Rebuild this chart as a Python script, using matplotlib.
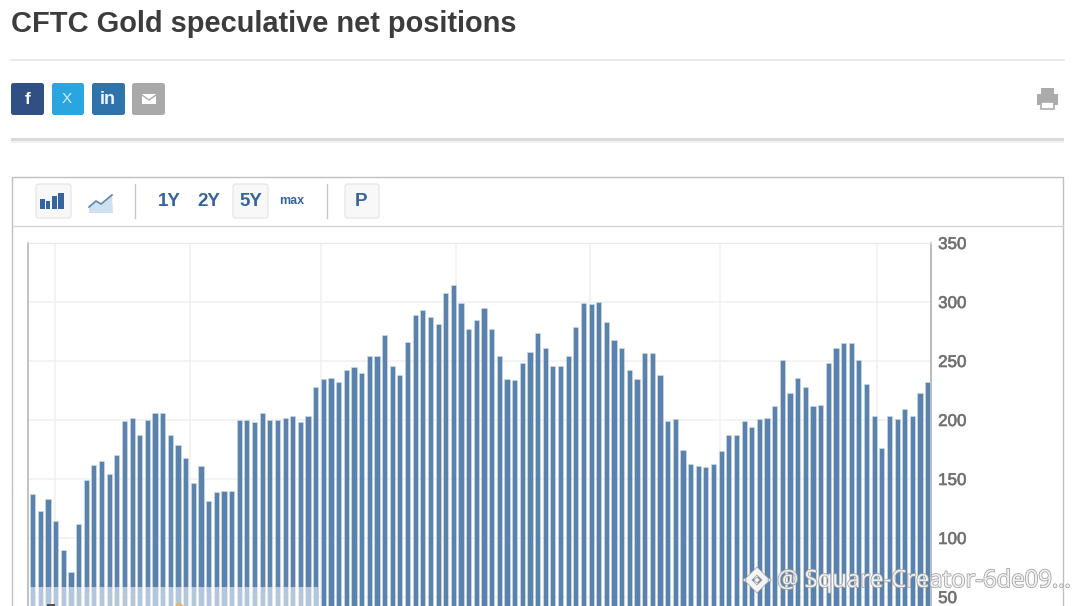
import matplotlib
matplotlib.use("Agg")
import matplotlib.pyplot as plt
from matplotlib.patches import Rectangle, FancyBboxPatch, Polygon
import matplotlib.patheffects as pe
import numpy as np

plt.rcParams['font.family'] = ['Liberation Sans', 'DejaVu Sans']

# net positions (thousand contracts)
positions = [137.5, 122.5, 133, 114, 90, 71, 111.5, 149, 162, 165,
             154, 170, 199, 202, 187, 200, 206, 206, 187, 179,
             168, 147, 161, 131, 139, 140, 140, 200, 200, 198,
             206, 200, 200, 202, 203, 198, 203, 228, 235, 236,
             232, 242, 244.5, 240, 254, 254, 272, 246, 238, 266,
             289, 293.5, 287, 281, 308, 314, 299, 277, 285, 295,
             277, 254, 235, 233.5, 248, 258, 274, 261, 246, 246,
             254, 279, 299, 298, 300, 283, 267.5, 261, 242, 235,
             257, 257, 238, 199.5, 200.5, 175, 162.5, 161, 160, 162.5,
             173.5, 187, 187, 199.5, 194, 200.5, 202, 211.5, 251, 222.5,
             236, 228, 211.5, 213, 248.5, 261, 265, 265, 251, 230.5,
             203, 176, 203, 200.5, 209, 203, 222.5, 232]
y_ticks = [50, 100, 150, 200, 250, 300, 350]
# vertical grid lines sit at these bar indices
date_ticks = [2.98, 20.5, 37.75, 55.3, 72.85, 89.9, 110.4]

title = "CFTC Gold speculative net positions"
range_labels = ["1Y", "2Y", "5Y"]
range_x = [169, 209, 250.5]
watermark = "@ Square-Creator-6de09..."

W, H = 1080, 606
BAR = '#5b82ac'
NAVY = '#34659f'

fig = plt.figure(figsize=(W / 100, H / 100), dpi=100, facecolor='white')

# chart axes, its bottom (value 0) lies below the crop
left, right, top, bottom = 28.0, 930.5, 243.0, 656.0
ax = fig.add_axes([left / W, (H - bottom) / H, (right - left) / W, (bottom - top) / H])
x = np.arange(len(positions))
step = (927.7 - 32.7) / (len(positions) - 1)
ax.bar(x, positions, width=0.68, color=BAR, edgecolor='#cfdeec', linewidth=0.4, zorder=3)
ax.set_xlim(-(32.7 - left) / step, len(positions) - 1 + (right - 927.7) / step)
ax.set_ylim(0, 350)
ax.set_yticks(y_ticks)
ax.set_xticks(date_ticks)
ax.set_xticklabels([])
ax.yaxis.tick_right()
ax.tick_params(axis='y', length=0, pad=5.5, labelsize=12.2, labelcolor='#707070')
ax.tick_params(axis='x', length=0)
for lab in ax.get_yticklabels():
    lab.set_path_effects([pe.withStroke(linewidth=0.5, foreground='#808080')])
ax.grid(True, color='#f0f0f0', linewidth=1.1, zorder=0)
ax.set_axisbelow(True)
ax.spines['top'].set_color('#e8e8e8')
ax.spines['bottom'].set_visible(False)
ax.spines['left'].set_color('#b0b0b0')
ax.spines['right'].set_color('#a8a8a8')
ax.spines['left'].set_linewidth(1.1)
ax.spines['right'].set_linewidth(1.1)

# page furniture in pixel coordinates
ui = fig.add_axes([0, 0, 1, 1], zorder=5)
ui.set_xlim(0, W)
ui.set_ylim(H, 0)
ui.axis('off')
ui.patch.set_alpha(0)

ui.text(11, 24, title, fontsize=20.9, fontweight='bold', color='#3c3c3c', va='center', ha='left')
ui.plot([11, 1064], [59.5, 59.5], color='#e4e4e4', lw=1.1)
ui.add_patch(Rectangle((11, 138), 1053, 3, color='#d9d9d9', lw=0))
ui.add_patch(Rectangle((11, 141), 1053, 2, color='#f2f2f2', lw=0))


def box(x0, y0, w, h, face, edge='none', r=2.5):
    ui.add_patch(FancyBboxPatch((x0 + r, y0 + r), w - 2 * r, h - 2 * r,
                                boxstyle=f"round,pad={r},rounding_size={r}",
                                fc=face, ec=edge, lw=0.8))


# share buttons
box(11, 83, 33, 32, '#2f4f85')
box(52, 83, 32, 32, '#2aa5df')
box(92, 83, 33, 32, '#2f73ab')
box(132, 83, 33, 32, '#a9a9a9')
ui.text(27.5, 99.5, "f", color='white', fontsize=12.5, fontweight='bold', ha='center', va='center')
ui.text(66.5, 99, "X", color='#d8eefa', fontsize=11, ha='center', va='center')
ui.text(108, 99.5, "in", color='#eef5fb', fontsize=13, fontweight='bold', ha='center', va='center')
ui.add_patch(Rectangle((142, 94), 14, 10, fc='white', ec='none'))
ui.plot([142, 149, 156], [95, 100, 95], color='#a9a9a9', lw=1)

# printer icon
ui.add_patch(Rectangle((1041, 88), 13, 6, fc='#ababab', lw=0))
ui.add_patch(Rectangle((1037, 94), 21, 11, fc='#ababab', lw=0))
ui.add_patch(Rectangle((1041, 102), 13, 7, fc='white', ec='#ababab', lw=1.2))

# chart frame and toolbar
ui.plot([12, 12, 1063, 1063], [H, 176.5, 176.5, H], color='#c0c0c0', lw=1)
ui.plot([12, 1063], [226, 226], color='#d4d4d4', lw=1)
ui.plot([135, 135], [184, 218], color='#c8c8c8', lw=1)
ui.plot([327, 327], [184, 218], color='#c8c8c8', lw=1)
box(36, 184, 35, 34, '#f8f8f8', '#e4e4e4')
box(233, 184, 35, 34, '#f8f8f8', '#e4e4e4')
box(345, 184, 34, 34, '#f8f8f8', '#e4e4e4')

# bar icon, line icon
ui.add_patch(Rectangle((40, 199), 4.5, 10, fc=NAVY, lw=0))
ui.add_patch(Rectangle((46, 201), 4, 8, fc=NAVY, lw=0))
ui.add_patch(Rectangle((52, 196), 4.5, 13, fc=NAVY, lw=0))
ui.add_patch(Rectangle((58, 193), 6, 16, fc=NAVY, lw=0))
ui.add_patch(Polygon([(89, 207), (96, 201), (101, 204), (112, 195), (113, 213), (89, 213)],
                     fc='#cfe0f0', lw=0))
ui.plot([89, 96, 101, 112], [207, 201, 204, 195], color='#5f86ae', lw=1.2)

for lab, lx in zip(range_labels, range_x):
    ui.text(lx, 201, lab, color=NAVY, fontsize=13.5, fontweight='bold', ha='center', va='center')
ui.text(291.5, 201.5, "max", color=NAVY, fontsize=9, fontweight='bold', ha='center', va='center')
ui.text(361, 201, "P", color=NAVY, fontsize=13.5, fontweight='bold', ha='center', va='center')

# washed out strip at the bottom left with tips of the markers below it
ui.add_patch(Rectangle((29, 587), 289, 19, fc='white', alpha=0.55, lw=0))
ui.add_patch(Polygon([(175, 606), (179, 602), (184, 606)], fc='#e8b46a', lw=0))
ui.add_patch(Rectangle((47, 604), 8, 2, fc='#555555', lw=0))

# watermark
halo = [pe.withStroke(linewidth=1.2, foreground='#a4a4a4')]
cx, cy = 757, 580
ui.add_patch(Polygon([(cx - 9, cy), (cx, cy - 9), (cx + 9, cy), (cx, cy + 9)],
                     fc='none', ec='#f4f4f4', lw=3.5,
                     path_effects=[pe.withStroke(linewidth=4.6, foreground='#a4a4a4')]))
for mx, my, s in [(cx, cy, 3), (cx - 12.5, cy, 1.8), (cx + 12.5, cy, 1.8)]:
    ui.add_patch(Polygon([(mx - s, my), (mx, my - s), (mx + s, my), (mx, my + s)],
                         fc='#f4f4f4', ec='#a4a4a4', lw=0.6))
ui.text(777, 581, watermark, family=['Open Sans', 'DejaVu Sans'], fontsize=17.2, color='#f2f2f2',
        va='center', ha='left', path_effects=halo)

fig.savefig('out.png', dpi=100)
